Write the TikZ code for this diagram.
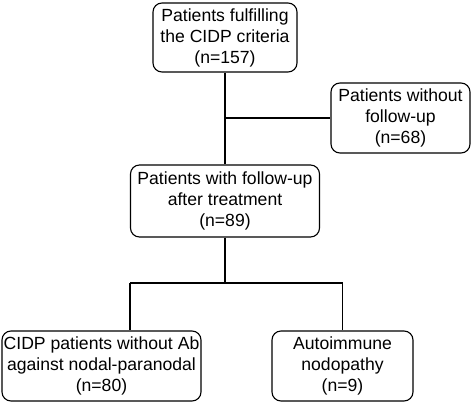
\documentclass[tikz,border=0pt]{standalone}
\usepackage{fontspec}
\setmainfont{Liberation Sans}
\begin{document}
\begin{tikzpicture}[
            x=1pt, y=-1pt,
            every node/.style={black},
            line width=1.1pt,
            box/.style={draw, rounded corners=9pt, align=center, inner sep=0pt,
                font=\fontsize{17.6}{21}\selectfont}
        ]
            \useasboundingbox (0,0) rectangle (474,402);
            \node [box, minimum width=144, minimum height=69] (crit) at (225,37.5)
                {Patients fulfilling\\the CIDP criteria\\(n=157)};
            \node [box, minimum width=139, minimum height=70] (lost) at (400.5,118)
                {Patients without\\follow-up\\(n=68)};
            \node [box, minimum width=189, minimum height=72] (treat) at (225,201)
                {Patients with follow-up\\after treatment\\(n=89)};
            \node [box, minimum width=199, minimum height=70] (cidp) at (101.5,366)
                {CIDP patients without Ab\\against nodal-paranodal\\(n=80)};
            \node [box, minimum width=141, minimum height=70] (auto) at (342.5,366)
                {Autoimmune\\nodopathy\\(n=9)};

            \coordinate (lsplit) at (130,283);
            \coordinate (rsplit) at (auto |- lsplit);

            \draw (crit) -- (treat);
            \draw (crit |- lost) -- (lost);
            \draw (treat) -- (treat |- lsplit);
            \draw (lsplit) -- (rsplit) -- (auto);
            \draw (lsplit) -- (lsplit |- cidp.north);
        \end{tikzpicture}
\end{document}
